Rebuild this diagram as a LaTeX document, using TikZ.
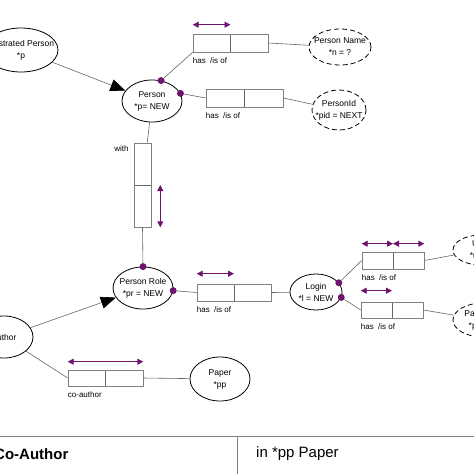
\documentclass[tikz,border=0pt]{standalone}
\usepackage{fontspec}
\setmainfont{Liberation Sans}
\usepackage{tikz}
\usetikzlibrary{arrows.meta, positioning, shapes.geometric}
\definecolor{rolepurple}{RGB}{110,20,110}

\begin{document}
\begin{tikzpicture}[x=1pt, y=-1pt,
  ent/.style 2 args={draw, ellipse, line width=0.8pt, minimum width=#1,
              minimum height=#2, inner sep=0pt},
  val/.style={dash pattern=on 5pt off 3pt},
  etxt/.style={align=center, inner sep=0pt,
              font=\fontsize{8.5}{12}\selectfont},
  rel/.style 2 args={draw=gray, line width=0.6pt, minimum width=#1,
              minimum height=#2, inner sep=0pt,
              path picture={\draw[gray!80!black, line width=0.8pt]
                (path picture bounding box.north) --
                (path picture bounding box.south);}},
  vrel/.style 2 args={draw=gray, line width=0.6pt, minimum width=#1,
              minimum height=#2, inner sep=0pt,
              path picture={\draw[gray!80!black, line width=0.8pt]
                (path picture bounding box.west) --
                (path picture bounding box.east);}},
  lbl/.style={font=\fontsize{8}{9}\selectfont, inner sep=0pt,
              anchor=north west, yshift=-5pt},
  link/.style={draw=gray!80!black, line width=0.6pt},
  isa/.style={link, -{Triangle[length=15pt, width=12pt, black]}},
  dot/.style={circle, fill=rolepurple, inner sep=0pt, minimum size=7pt},
  dir/.style={{Triangle[length=6pt, width=6pt]}-{Triangle[length=6pt, width=6pt]},
              rolepurple, line width=0.9pt},
]
  \useasboundingbox (0,0) rectangle (474,474);

  % Entities
  \node[ent={74pt}{44pt}, label={[etxt]center:{Illustrated Person\\*p}}]
        (illus) at (21,50) {};
  \node[ent={60pt}{42pt}, label={[etxt]center:{Person\\*p= NEW}}]
        (person) at (152,101) {};
  \node[ent={62pt}{36pt}, val, label={[etxt]center:{Person Name\\*n = ?}}]
        (pname) at (340,47) {};
  \node[ent={54pt}{40pt}, val, label={[etxt]center:{PersonId\\*pid = NEXT}}]
        (pid) at (339,110) {};
  \node[ent={60pt}{42pt}, label={[etxt]center:{Person Role\\*pr = NEW}}]
        (prole) at (143,288) {};
  \node[ent={58pt}{42pt}, label={[etxt]center:{Author}}]
        (author) at (4,337) {};
  \node[ent={52pt}{36pt}, label={[etxt]center:{Login\\*l = NEW}}]
        (login) at (316,292) {};
  \node[ent={56pt}{30pt}, val, label={[etxt]center:{User\\*u = ?}}]
        (user) at (481,250) {};
  \node[ent={60pt}{34pt}, val, label={[etxt]center:{Password\\*pw = ?}}]
        (pwd) at (483,320) {};
  \node[ent={60pt}{44pt}, label={[etxt]center:{Paper\\*pp}}]
        (paper) at (220,379) {};

  % Relationship boxes
  \node[rel={75pt}{18pt}, label={[lbl]south west:{has\ \ /is of}}]
        (hasname) at (230.5,43) {};
  \node[rel={77pt}{18pt}, label={[lbl]south west:{has\ \ /is of}}]
        (hasid) at (244.5,98) {};
  \node[vrel={17pt}{84pt},
        label={[lbl, anchor=north east, xshift=-5pt, yshift=2pt]north west:{with}}]
        (with) at (142.5,185) {};
  \node[rel={74pt}{17pt}, label={[lbl]south west:{has\ \ /is of}}]
        (haslogin) at (234,292.5) {};
  \node[rel={62pt}{17pt}, label={[lbl]south west:{has\ \ /is of}}]
        (hasuser) at (393,260.5) {};
  \node[rel={62pt}{16pt}, label={[lbl]south west:{has\ \ /is of}}]
        (haspwd) at (392,310) {};
  \node[rel={75pt}{16pt}, label={[lbl]south west:{co-author}}]
        (coauth) at (105.5,378) {};

  % Role dots
  \node[dot] (pdot1) at (person.66) {};
  \node[dot] (pdot2) at (person.15) {};
  \node[dot] (rdot1) at (prole.90) {};
  \node[dot] (rdot2) at (prole.-5) {};
  \node[dot] (ldot1) at (login.22) {};
  \node[dot] (ldot2) at (login.-12) {};

  % Links
  \draw[isa] (illus) -- (person);
  \draw[isa] (author) -- (prole);
  \draw[link] (pdot1) -- (hasname.south west);
  \draw[link] (hasname.east) -- (pname);
  \draw[link] (pdot2) -- (hasid.west);
  \draw[link] (hasid.east) -- (pid);
  \draw[link] (person) -- (with);
  \draw[link] (with.south) -- (rdot1);
  \draw[link] (rdot2) -- (haslogin.west);
  \draw[link] (haslogin.east) -- (login);
  \draw[link] (ldot1) -- (hasuser.west);
  \draw[link] (hasuser.east) -- (user);
  \draw[link] (ldot2) -- (haspwd.west);
  \draw[link] (haspwd.east) -- (pwd);
  \draw[link] (author) -- (coauth.west);
  \draw[link] (coauth.east) -- (paper);

  % Reading directions
  \draw[dir] ([yshift=9pt]hasname.north west) -- ([yshift=9pt]hasname.north);
  \draw[dir] ([yshift=10pt]haslogin.north west) -- ([yshift=10pt]haslogin.north);
  \draw[dir] ([yshift=8pt]hasuser.north west) -- ([yshift=8pt]hasuser.north);
  \draw[dir] ([yshift=8pt]hasuser.north) -- ([yshift=8pt]hasuser.north east);
  \draw[dir] ([yshift=11pt]haspwd.north west) -- ([yshift=11pt]haspwd.north);
  \draw[dir] ([yshift=8pt]coauth.north west) -- ([yshift=8pt]coauth.north east);
  \draw[dir] ([xshift=9pt]with.east) -- ([xshift=9pt]with.south east);

  % Caption row
  \draw[gray, line width=0.8pt] (0,436) -- (474,436);
  \draw[gray, line width=0.8pt] (237,436) -- (237,474);
  \node[anchor=west, inner sep=0pt, font=\fontsize{15}{18}\bfseries]
        (rowname) at (-6,454) {Co-Author};
  \node[anchor=west, inner sep=0pt, font=\fontsize{15}{18}\selectfont]
        (rowtext) at (256,454) {in *pp Paper};
\end{tikzpicture}
\end{document}
